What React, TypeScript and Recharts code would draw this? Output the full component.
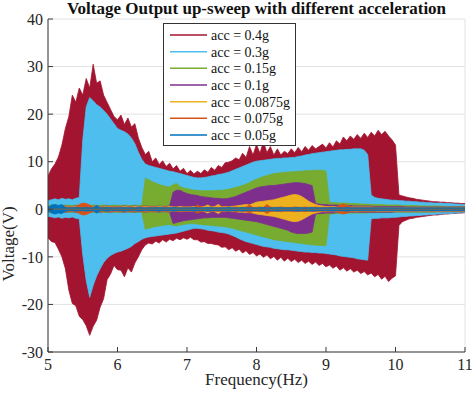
import React from 'react';
import { ComposedChart, Area, XAxis, YAxis, CartesianGrid, ReferenceLine } from 'recharts';

const FREQ = [
  5, 5.05, 5.1, 5.15, 5.2, 5.25, 5.3, 5.35, 5.4, 5.45,
  5.5, 5.55, 5.6, 5.65, 5.7, 5.75, 5.8, 5.85, 5.9, 5.95,
  6, 6.05, 6.1, 6.15, 6.2, 6.25, 6.3, 6.35, 6.4, 6.45,
  6.5, 6.55, 6.6, 6.65, 6.7, 6.75, 6.8, 6.85, 6.9, 6.95,
  7, 7.05, 7.1, 7.15, 7.2, 7.25, 7.3, 7.35, 7.4, 7.45,
  7.5, 7.55, 7.6, 7.65, 7.7, 7.75, 7.8, 7.85, 7.9, 7.95,
  8, 8.05, 8.1, 8.15, 8.2, 8.25, 8.3, 8.35, 8.4, 8.45,
  8.5, 8.55, 8.6, 8.65, 8.7, 8.75, 8.8, 8.85, 8.9, 8.95,
  9, 9.05, 9.1, 9.15, 9.2, 9.25, 9.3, 9.35, 9.4, 9.45,
  9.5, 9.55, 9.6, 9.65, 9.7, 9.75, 9.8, 9.85, 9.9, 9.95,
  10, 10.05, 10.1, 10.15, 10.2, 10.25, 10.3, 10.35, 10.4, 10.45,
  10.5, 10.55, 10.6, 10.65, 10.7, 10.75, 10.8, 10.85, 10.9, 10.95,
  11,
];

// acc = 0.4g
const ACC04_HI = [
  7.0, 8.5, 9.5, 11.0, 13.5, 17.0, 19.5, 24.0, 22.5, 25.5,
  24.0, 27.5, 25.5, 30.5, 26.5, 27.0, 24.0, 22.5, 21.0, 19.5,
  18.8, 19.8, 17.8, 19.2, 17.3, 18.0, 15.0, 13.0, 11.5, 12.2,
  10.0, 10.8, 9.4, 10.2, 9.0, 9.7, 8.5, 9.2, 8.0, 8.6,
  7.5, 8.2, 7.4, 8.0, 7.5, 8.3, 7.8, 8.8, 8.2, 9.2,
  8.8, 9.8, 9.9, 10.2, 10.8, 10.4, 11.8, 10.9, 13.2, 11.4,
  13.6, 11.8, 14.2, 11.9, 13.2, 11.4, 12.7, 11.4, 12.2, 11.7,
  12.7, 11.9, 13.0, 12.1, 13.2, 12.4, 13.4, 12.7, 13.2, 13.7,
  12.9, 14.0, 13.1, 14.4, 13.7, 15.2, 14.4, 15.4, 14.7, 15.7,
  14.9, 16.0, 15.1, 16.2, 15.4, 16.6, 15.7, 16.4, 15.4, 14.6,
  13.5, 3.0, 2.8, 2.6, 2.4, 2.3, 2.1, 2.0, 1.9, 1.8,
  1.7, 1.6, 1.6, 1.5, 1.5, 1.4, 1.4, 1.3, 1.3, 1.2,
  1.2,
];
const ACC04_LO = [
  -6.0, -6.8, -7.0, -8.4, -10.0, -12.5, -17.0, -19.8, -20.3, -22.5,
  -23.2, -24.5, -26.5, -24.6, -23.3, -20.6, -18.8, -14.8, -13.6, -11.8,
  -12.7, -12.8, -14.2, -12.3, -13.2, -11.3, -10.0, -8.5, -7.5, -7.1,
  -7.3, -6.7, -7.1, -6.4, -6.9, -6.3, -6.6, -6.1, -6.4, -6.0,
  -6.3, -5.9, -6.4, -6.4, -6.9, -6.8, -7.2, -7.2, -7.4, -7.5,
  -8.0, -7.9, -8.5, -8.1, -8.8, -8.4, -9.2, -8.7, -9.5, -9.1,
  -9.8, -9.4, -10.1, -9.6, -10.4, -9.9, -10.7, -10.1, -10.9, -10.3,
  -11.0, -10.5, -11.2, -10.7, -11.4, -10.9, -11.6, -11.1, -11.8, -11.4,
  -12.1, -11.7, -12.4, -11.9, -12.8, -12.3, -13.0, -12.5, -13.2, -12.8,
  -13.5, -13.1, -13.8, -13.4, -14.2, -13.7, -14.7, -14.1, -15.2, -14.5,
  -14.0, -3.4, -2.6, -2.3, -2.0, -1.9, -1.7, -1.6, -1.5, -1.4,
  -1.3, -1.2, -1.2, -1.1, -1.0, -1.0, -0.9, -0.9, -0.8, -0.8,
  -0.7,
];

// acc = 0.3g
const ACC03_HI = [
  1.8, 2.0, 2.2, 2.0, 2.3, 2.1, 2.2, 2.0, 2.3, 2.5,
  14.5, 21.5, 23.5, 22.8, 22.0, 21.5, 20.8, 20.0, 19.0, 18.0,
  17.0, 16.6, 16.3, 15.8, 15.0, 13.8, 12.0, 10.5, 9.5, 9.2,
  9.0, 8.8, 8.6, 8.4, 8.2, 8.0, 7.9, 7.7, 7.5, 7.3,
  7.1, 6.9, 6.7, 6.6, 6.6, 6.7, 6.8, 7.0, 7.1, 7.3,
  7.4, 7.6, 7.8, 8.1, 8.4, 8.7, 9.0, 9.3, 9.6, 9.9,
  10.1, 10.2, 10.3, 10.4, 10.5, 10.6, 10.7, 10.7, 10.8, 10.8,
  10.9, 10.9, 11.1, 11.2, 11.4, 11.5, 11.7, 11.8, 11.9, 12.0,
  12.1, 12.2, 12.3, 12.4, 12.5, 12.5, 12.6, 12.6, 12.7, 12.7,
  12.7, 12.4, 11.5, 3.0, 2.5, 2.3, 2.2, 2.1, 2.0, 1.9,
  1.9, 1.8, 1.8, 1.7, 1.7, 1.6, 1.6, 1.5, 1.5, 1.4,
  1.4, 1.3, 1.3, 1.3, 1.2, 1.2, 1.2, 1.1, 1.1, 1.0,
  1.0,
];
const ACC03_LO = [
  -1.5, -1.6, -1.8, -1.6, -1.9, -1.7, -1.8, -1.6, -1.9, -2.0,
  -9.5, -15.0, -18.5, -16.0, -14.0, -12.5, -11.2, -10.3, -9.7, -9.3,
  -9.0, -8.8, -8.5, -8.2, -7.8, -7.2, -6.8, -6.3, -6.0, -5.8,
  -5.7, -5.6, -5.5, -5.4, -5.3, -5.2, -5.1, -5.0, -4.8, -4.6,
  -4.4, -4.2, -4.0, -4.0, -4.1, -4.2, -4.4, -4.5, -4.6, -4.8,
  -4.9, -5.0, -5.2, -5.5, -5.8, -6.2, -6.5, -6.8, -7.0, -7.2,
  -7.4, -7.6, -7.8, -7.9, -8.0, -8.2, -8.3, -8.4, -8.5, -8.5,
  -8.6, -8.7, -8.8, -8.9, -9.0, -9.0, -9.1, -9.1, -9.2, -9.2,
  -9.3, -9.4, -9.5, -9.6, -9.8, -9.9, -10.0, -10.1, -10.2, -10.4,
  -10.5, -10.6, -10.7, -2.0, -1.9, -1.9, -1.8, -1.8, -1.8, -1.7,
  -1.7, -1.6, -1.5, -1.5, -1.4, -1.4, -1.3, -1.3, -1.2, -1.2,
  -1.1, -1.1, -1.0, -1.0, -0.9, -0.9, -0.9, -0.8, -0.8, -0.7,
  -0.7,
];

// acc = 0.15g
const ACC015_HI = [
  0.8, 0.8, 0.9, 0.8, 0.8, 0.9, 0.8, 0.8, 0.9, 0.8,
  0.9, 0.8, 0.8, 0.9, 0.8, 0.8, 0.9, 0.8, 0.8, 0.9,
  0.8, 0.8, 0.9, 0.8, 0.8, 0.9, 0.8, 0.9, 6.5, 6.2,
  5.8, 5.5, 5.2, 5.0, 4.8, 4.7, 5.2, 5.4, 4.8, 4.5,
  4.3, 4.2, 4.0, 4.0, 3.9, 3.9, 3.9, 3.9, 3.9, 4.0,
  4.0, 4.1, 4.2, 4.4, 4.6, 4.8, 5.0, 5.3, 5.6, 6.0,
  6.3, 6.6, 6.9, 7.1, 7.3, 7.5, 7.6, 7.7, 7.8, 7.8,
  7.9, 7.9, 8.0, 8.0, 8.1, 8.1, 8.2, 8.2, 8.2, 8.2,
  8.0, 1.5, 1.4, 1.4, 1.3, 1.3, 1.3, 1.2, 1.2, 1.2,
  1.1, 1.1, 1.1, 1.0, 1.0, 1.0, 1.0, 0.9, 0.9, 0.9,
  0.9, 0.9, 0.8, 0.8, 0.8, 0.8, 0.8, 0.7, 0.7, 0.7,
  0.7, 0.7, 0.7, 0.7, 0.6, 0.6, 0.6, 0.6, 0.6, 0.6,
  0.6,
];
const ACC015_LO = [
  -0.6, -0.7, -0.6, -0.6, -0.7, -0.6, -0.6, -0.7, -0.6, -0.6,
  -0.6, -0.7, -0.6, -0.6, -0.7, -0.6, -0.6, -0.7, -0.6, -0.6,
  -0.6, -0.7, -0.6, -0.6, -0.7, -0.6, -0.6, -0.7, -4.2, -4.0,
  -3.8, -3.6, -3.5, -3.4, -3.3, -3.2, -3.4, -3.5, -3.3, -3.2,
  -3.1, -3.0, -3.0, -3.1, -3.2, -3.3, -3.3, -3.4, -3.5, -3.5,
  -3.6, -3.7, -3.8, -4.0, -4.2, -4.4, -4.6, -4.8, -5.0, -5.2,
  -5.4, -5.6, -5.8, -6.0, -6.2, -6.4, -6.5, -6.6, -6.7, -6.8,
  -6.9, -7.0, -7.1, -7.2, -7.3, -7.4, -7.5, -7.5, -7.6, -7.6,
  -7.6, -1.0, -1.0, -0.9, -0.9, -0.9, -0.9, -0.8, -0.8, -0.8,
  -0.8, -0.8, -0.8, -0.7, -0.7, -0.7, -0.7, -0.7, -0.7, -0.6,
  -0.6, -0.6, -0.6, -0.6, -0.6, -0.6, -0.6, -0.6, -0.6, -0.6,
  -0.6, -0.6, -0.5, -0.5, -0.5, -0.5, -0.5, -0.5, -0.5, -0.5,
  -0.5,
];

// acc = 0.1g
const ACC01_HI = [
  0.6, 0.6, 0.7, 0.6, 0.6, 0.7, 0.6, 0.6, 0.7, 0.6,
  0.6, 0.7, 0.6, 0.6, 0.7, 0.6, 0.6, 0.7, 0.6, 0.6,
  0.6, 0.6, 0.7, 0.6, 0.6, 0.7, 0.6, 0.6, 0.7, 0.6,
  0.6, 0.6, 0.7, 0.6, 0.6, 0.7, 3.6, 4.0, 4.0, 3.6,
  3.3, 3.1, 3.0, 2.9, 2.7, 2.6, 2.5, 2.4, 2.3, 2.3,
  2.2, 2.2, 2.3, 2.5, 2.7, 3.0, 3.3, 3.6, 3.9, 4.2,
  4.5, 4.7, 4.8, 4.9, 5.0, 5.0, 5.1, 5.2, 5.3, 5.4,
  5.5, 5.6, 5.6, 5.5, 5.4, 5.2, 5.0, 1.2, 1.1, 1.0,
  1.0, 0.9, 0.9, 0.9, 0.8, 0.8, 0.8, 0.8, 0.7, 0.7,
  0.7, 0.7, 0.7, 0.7, 0.6, 0.6, 0.6, 0.6, 0.6, 0.6,
  0.6, 0.6, 0.6, 0.5, 0.5, 0.5, 0.5, 0.5, 0.5, 0.5,
  0.5, 0.5, 0.5, 0.5, 0.5, 0.5, 0.5, 0.5, 0.5, 0.5,
  0.5,
];
const ACC01_LO = [
  -0.5, -0.5, -0.6, -0.5, -0.5, -0.6, -0.5, -0.5, -0.6, -0.5,
  -0.5, -0.5, -0.6, -0.5, -0.5, -0.6, -0.5, -0.5, -0.6, -0.5,
  -0.5, -0.5, -0.6, -0.5, -0.5, -0.6, -0.5, -0.5, -0.6, -0.5,
  -0.5, -0.5, -0.6, -0.5, -0.5, -0.6, -3.0, -2.8, -2.6, -2.4,
  -2.3, -2.2, -2.1, -2.0, -1.9, -1.8, -1.8, -1.7, -1.7, -1.7,
  -1.7, -1.7, -1.8, -1.9, -2.0, -2.1, -2.2, -2.3, -2.4, -2.5,
  -2.6, -2.8, -3.0, -3.2, -3.4, -3.6, -3.8, -4.0, -4.2, -4.4,
  -4.8, -5.0, -5.1, -5.1, -5.1, -5.0, -4.8, -1.0, -0.9, -0.9,
  -0.8, -0.8, -0.8, -0.7, -0.7, -0.7, -0.7, -0.6, -0.6, -0.6,
  -0.6, -0.6, -0.6, -0.6, -0.6, -0.6, -0.6, -0.6, -0.6, -0.6,
  -0.5, -0.5, -0.5, -0.5, -0.5, -0.5, -0.5, -0.5, -0.5, -0.5,
  -0.5, -0.5, -0.5, -0.5, -0.5, -0.5, -0.5, -0.5, -0.5, -0.5,
  -0.5,
];

// acc = 0.0875g
const ACC00875_HI = [
  0.5, 0.5, 0.6, 0.5, 0.5, 0.6, 0.5, 0.5, 0.6, 0.5,
  0.5, 0.6, 0.5, 0.5, 0.6, 0.5, 0.5, 0.6, 0.5, 0.5,
  0.5, 0.5, 0.6, 0.5, 0.5, 0.6, 0.5, 0.5, 0.6, 0.5,
  0.5, 0.5, 0.6, 0.5, 0.5, 0.6, 0.5, 0.5, 0.6, 0.5,
  0.5, 0.5, 0.6, 0.5, 0.5, 0.6, 0.9, 0.5, 0.6, 1.0,
  0.5, 0.6, 0.5, 0.6, 0.7, 0.8, 0.9, 1.0, 0.9, 1.2,
  1.5, 1.6, 1.7, 1.8, 1.9, 2.0, 2.2, 2.4, 2.6, 2.8,
  3.0, 3.1, 3.0, 2.7, 2.2, 1.7, 1.3, 1.0, 0.8, 0.7,
  0.6, 0.6, 0.6, 0.5, 0.5, 0.5, 0.5, 0.5, 0.5, 0.5,
  0.5, 0.5, 0.5, 0.5, 0.4, 0.4, 0.4, 0.4, 0.4, 0.4,
  0.4, 0.4, 0.4, 0.4, 0.4, 0.4, 0.4, 0.4, 0.4, 0.4,
  0.4, 0.4, 0.4, 0.4, 0.4, 0.4, 0.4, 0.4, 0.4, 0.4,
  0.4,
];
const ACC00875_LO = [
  -0.4, -0.4, -0.5, -0.4, -0.4, -0.5, -0.4, -0.4, -0.5, -0.4,
  -0.4, -0.4, -0.5, -0.4, -0.4, -0.5, -0.4, -0.4, -0.5, -0.4,
  -0.4, -0.4, -0.5, -0.4, -0.4, -0.5, -0.4, -0.4, -0.5, -0.4,
  -0.4, -0.4, -0.5, -0.4, -0.4, -0.5, -0.4, -0.4, -0.5, -0.4,
  -0.4, -0.4, -0.5, -0.4, -0.4, -0.5, -0.8, -0.4, -0.5, -0.9,
  -0.4, -0.5, -0.4, -0.5, -0.5, -0.6, -0.6, -0.7, -0.7, -0.8,
  -1.0, -1.1, -1.2, -1.3, -1.4, -1.5, -1.7, -1.9, -2.1, -2.3,
  -2.5, -2.6, -2.5, -2.2, -1.8, -1.4, -1.0, -0.8, -0.6, -0.5,
  -0.5, -0.5, -0.5, -0.5, -0.5, -0.5, -0.5, -0.5, -0.5, -0.5,
  -0.4, -0.4, -0.4, -0.4, -0.4, -0.4, -0.4, -0.4, -0.4, -0.4,
  -0.4, -0.4, -0.4, -0.4, -0.4, -0.4, -0.4, -0.4, -0.4, -0.4,
  -0.4, -0.4, -0.4, -0.4, -0.4, -0.4, -0.4, -0.4, -0.4, -0.4,
  -0.4,
];

// acc = 0.075g
const ACC0075_HI = [
  0.4, 0.4, 0.5, 0.4, 0.4, 0.5, 0.4, 0.4, 0.5, 1.0,
  1.3, 1.2, 0.9, 0.4, 0.5, 0.4, 0.4, 0.5, 0.4, 0.4,
  0.4, 0.5, 0.4, 0.4, 0.5, 0.4, 0.4, 0.5, 0.4, 0.4,
  0.4, 0.5, 0.4, 0.4, 0.5, 0.4, 0.4, 0.5, 0.4, 0.4,
  0.4, 0.5, 0.4, 0.9, 0.5, 0.4, 0.4, 0.5, 0.4, 0.4,
  0.4, 0.5, 0.4, 0.4, 0.5, 0.4, 0.4, 0.5, 0.9, 0.4,
  0.4, 0.5, 0.4, 1.0, 0.5, 0.4, 0.4, 0.5, 0.4, 0.4,
  0.4, 0.5, 0.4, 0.4, 0.5, 0.4, 0.4, 0.5, 0.4, 0.4,
  0.4, 0.5, 0.4, 0.4, 0.9, 1.1, 0.9, 0.5, 0.4, 0.4,
  0.4, 0.4, 0.4, 0.4, 0.4, 0.3, 0.3, 0.3, 0.3, 0.3,
  0.3, 0.3, 0.3, 0.3, 0.3, 0.3, 0.3, 0.3, 0.3, 0.3,
  0.3, 0.3, 0.3, 0.3, 0.3, 0.3, 0.3, 0.3, 0.3, 0.3,
  0.3,
];
const ACC0075_LO = [
  -0.4, -0.4, -0.5, -0.4, -0.4, -0.5, -0.4, -0.4, -0.5, -0.9,
  -1.2, -1.1, -0.8, -0.4, -0.5, -0.4, -0.4, -0.5, -0.4, -0.4,
  -0.4, -0.5, -0.4, -0.4, -0.5, -0.4, -0.4, -0.5, -0.4, -0.4,
  -0.4, -0.5, -0.4, -0.4, -0.5, -0.4, -0.4, -0.5, -0.4, -0.4,
  -0.4, -0.5, -0.4, -0.8, -0.5, -0.4, -0.4, -0.5, -0.4, -0.4,
  -0.4, -0.5, -0.4, -0.4, -0.5, -0.4, -0.4, -0.5, -0.8, -0.4,
  -0.4, -0.5, -0.4, -0.9, -0.5, -0.4, -0.4, -0.5, -0.4, -0.4,
  -0.4, -0.5, -0.4, -0.4, -0.5, -0.4, -0.4, -0.5, -0.4, -0.4,
  -0.4, -0.5, -0.4, -0.4, -0.8, -1.0, -0.8, -0.5, -0.4, -0.4,
  -0.4, -0.4, -0.4, -0.4, -0.4, -0.3, -0.3, -0.3, -0.3, -0.3,
  -0.3, -0.3, -0.3, -0.3, -0.3, -0.3, -0.3, -0.3, -0.3, -0.3,
  -0.3, -0.3, -0.3, -0.3, -0.3, -0.3, -0.3, -0.3, -0.3, -0.3,
  -0.3,
];

// acc = 0.05g
const ACC005_HI = [
  0.3, 0.9, 1.0, 0.8, 1.0, 0.4, 0.3, 0.3, 0.4, 0.3,
  0.3, 0.4, 0.3, 0.3, 0.8, 0.3, 0.3, 0.4, 0.3, 0.3,
  0.3, 0.3, 0.4, 0.3, 0.3, 0.3, 0.4, 0.3, 0.3, 0.3,
  0.3, 0.3, 0.4, 0.3, 0.3, 0.3, 0.4, 0.3, 0.3, 0.3,
  0.3, 0.3, 0.4, 0.3, 0.3, 0.3, 0.4, 0.3, 0.3, 0.3,
  0.3, 0.3, 0.4, 0.3, 0.3, 0.3, 0.4, 0.3, 0.3, 0.3,
  0.3, 0.3, 0.4, 0.3, 0.3, 0.3, 0.4, 0.3, 0.3, 0.3,
  0.3, 0.3, 0.4, 0.3, 0.3, 0.3, 0.4, 0.3, 0.3, 0.3,
  0.3, 0.3, 0.4, 0.3, 0.3, 0.3, 0.4, 0.3, 0.3, 0.3,
  0.3, 0.3, 0.3, 0.3, 0.3, 0.3, 0.3, 0.3, 0.3, 0.3,
  0.3, 0.3, 0.3, 0.3, 0.3, 0.3, 0.3, 0.3, 0.3, 0.3,
  0.3, 0.3, 0.3, 0.3, 0.3, 0.3, 0.3, 0.3, 0.3, 0.3,
  0.3,
];
const ACC005_LO = [
  -0.3, -0.8, -1.0, -0.8, -0.9, -0.4, -0.3, -0.3, -0.4, -0.3,
  -0.3, -0.4, -0.3, -0.3, -0.8, -0.3, -0.3, -0.4, -0.3, -0.3,
  -0.3, -0.3, -0.4, -0.3, -0.3, -0.3, -0.4, -0.3, -0.3, -0.3,
  -0.3, -0.3, -0.4, -0.3, -0.3, -0.3, -0.4, -0.3, -0.3, -0.3,
  -0.3, -0.3, -0.4, -0.3, -0.3, -0.3, -0.4, -0.3, -0.3, -0.3,
  -0.3, -0.3, -0.4, -0.3, -0.3, -0.3, -0.4, -0.3, -0.3, -0.3,
  -0.3, -0.3, -0.4, -0.3, -0.3, -0.3, -0.4, -0.3, -0.3, -0.3,
  -0.3, -0.3, -0.4, -0.3, -0.3, -0.3, -0.4, -0.3, -0.3, -0.3,
  -0.3, -0.3, -0.4, -0.3, -0.3, -0.3, -0.4, -0.3, -0.3, -0.3,
  -0.3, -0.3, -0.3, -0.3, -0.3, -0.3, -0.3, -0.3, -0.3, -0.3,
  -0.3, -0.3, -0.3, -0.3, -0.3, -0.3, -0.3, -0.3, -0.3, -0.3,
  -0.3, -0.3, -0.3, -0.3, -0.3, -0.3, -0.3, -0.3, -0.3, -0.3,
  -0.3,
];

const X_TICKS = [5, 6, 7, 8, 9, 10, 11];
const Y_TICKS = [-30, -20, -10, 0, 10, 20, 30, 40];

const TITLE = 'Voltage Output up-sweep with different acceleration';
const X_LABEL = 'Frequency(Hz)';
const Y_LABEL = 'Voltage(V)';

const SERIES = [
  { key: 's04', name: 'acc = 0.4g', color: '#A2142F', lo: ACC04_LO, hi: ACC04_HI },
  { key: 's03', name: 'acc = 0.3g', color: '#4DBEEE', lo: ACC03_LO, hi: ACC03_HI },
  { key: 's015', name: 'acc = 0.15g', color: '#77AC30', lo: ACC015_LO, hi: ACC015_HI },
  { key: 's01', name: 'acc = 0.1g', color: '#7E2F8E', lo: ACC01_LO, hi: ACC01_HI },
  { key: 's00875', name: 'acc = 0.0875g', color: '#EDB120', lo: ACC00875_LO, hi: ACC00875_HI },
  { key: 's0075', name: 'acc = 0.075g', color: '#D95319', lo: ACC0075_LO, hi: ACC0075_HI },
  { key: 's005', name: 'acc = 0.05g', color: '#0072BD', lo: ACC005_LO, hi: ACC005_HI },
];

const DATA = FREQ.map((f, i) => {
  const row: Record<string, any> = { f };
  SERIES.forEach((s) => {
    row[s.key] = [s.lo[i], s.hi[i]];
  });
  return row;
});

const FONT = "'Liberation Serif', 'Times New Roman', serif";
const AXIS_COLOR = '#3a3a3a';
const GRID_COLOR = '#e2e2e2';
const W = 474;
const H = 395;

export default function App() {
  return (
    <div
      style={{
        position: 'absolute',
        left: 0,
        top: 0,
        width: W,
        height: H,
        background: '#fff',
        fontFamily: FONT,
      }}
    >
      <ComposedChart
        width={W}
        height={H}
        data={DATA}
        margin={{ top: 19, right: 9, bottom: 13, left: 8 }}
        style={{ fontFamily: FONT }}
      >
        <CartesianGrid xAxisId="t" yAxisId="l" stroke={GRID_COLOR} strokeWidth={1} />
        <XAxis
          xAxisId="b"
          dataKey="f"
          type="number"
          domain={[5, 11]}
          ticks={X_TICKS}
          allowDataOverflow
          height={30}
          stroke={AXIS_COLOR}
          tickSize={-5}
          tickMargin={12}
          tick={{ fill: '#262626', fontSize: 16, style: { fontFamily: FONT } }}
        />
        <XAxis
          xAxisId="t"
          orientation="top"
          type="number"
          domain={[5, 11]}
          ticks={X_TICKS}
          allowDataOverflow
          height={0}
          stroke={AXIS_COLOR}
          tickSize={-5}
          tick={false}
        />
        <YAxis
          yAxisId="l"
          type="number"
          domain={[-30, 40]}
          ticks={Y_TICKS}
          allowDataOverflow
          width={40}
          stroke={AXIS_COLOR}
          tickSize={-5}
          tickMargin={10}
          tick={{ fill: '#262626', fontSize: 16, style: { fontFamily: FONT } }}
        />
        <YAxis
          yAxisId="r"
          orientation="right"
          type="number"
          domain={[-30, 40]}
          ticks={Y_TICKS}
          allowDataOverflow
          width={0}
          stroke={AXIS_COLOR}
          tickSize={-5}
          tick={false}
        />
        {SERIES.map((s) => (
          <Area
            key={s.key}
            xAxisId="b"
            yAxisId="l"
            dataKey={s.key}
            name={s.name}
            type="linear"
            stroke={s.color}
            strokeWidth={0.8}
            fill={s.color}
            fillOpacity={1}
            dot={false}
            activeDot={false}
            isAnimationActive={false}
          />
        ))}
        <ReferenceLine xAxisId="b" yAxisId="l" y={0} stroke="#5c6b67" strokeWidth={1.6} />
      </ComposedChart>
      <svg
        width={W}
        height={H}
        style={{ position: 'absolute', left: 0, top: 0, pointerEvents: 'none', fontFamily: FONT }}
      >
        <text x={256.5} y={14} textAnchor="middle" style={{ fontFamily: FONT, fontWeight: 'bold', fontSize: 17 }} fill="#111">
          {TITLE}
        </text>
        <text x={256.5} y={385} textAnchor="middle" style={{ fontFamily: FONT, fontSize: 17 }} fill="#262626">
          {X_LABEL}
        </text>
        <text
          x={14}
          y={244}
          textAnchor="middle"
          style={{ fontFamily: FONT, fontSize: 17 }}
          fill="#262626"
          transform="rotate(-90, 14, 244)"
        >
          {Y_LABEL}
        </text>
        <rect x={163.5} y={23.5} width={132} height={122} fill="#fff" stroke="#333" strokeWidth={1} />
        {SERIES.map((s, i) => {
          const cy = 35 + i * 16.67;
          return (
            <g key={s.key}>
              <line x1={170} x2={207} y1={cy} y2={cy} stroke={s.color} strokeWidth={1.5} />
              <text x={211} y={cy + 5} style={{ fontFamily: FONT, fontSize: 14 }} fill="#111">
                {s.name}
              </text>
            </g>
          );
        })}
      </svg>
    </div>
  );
}
